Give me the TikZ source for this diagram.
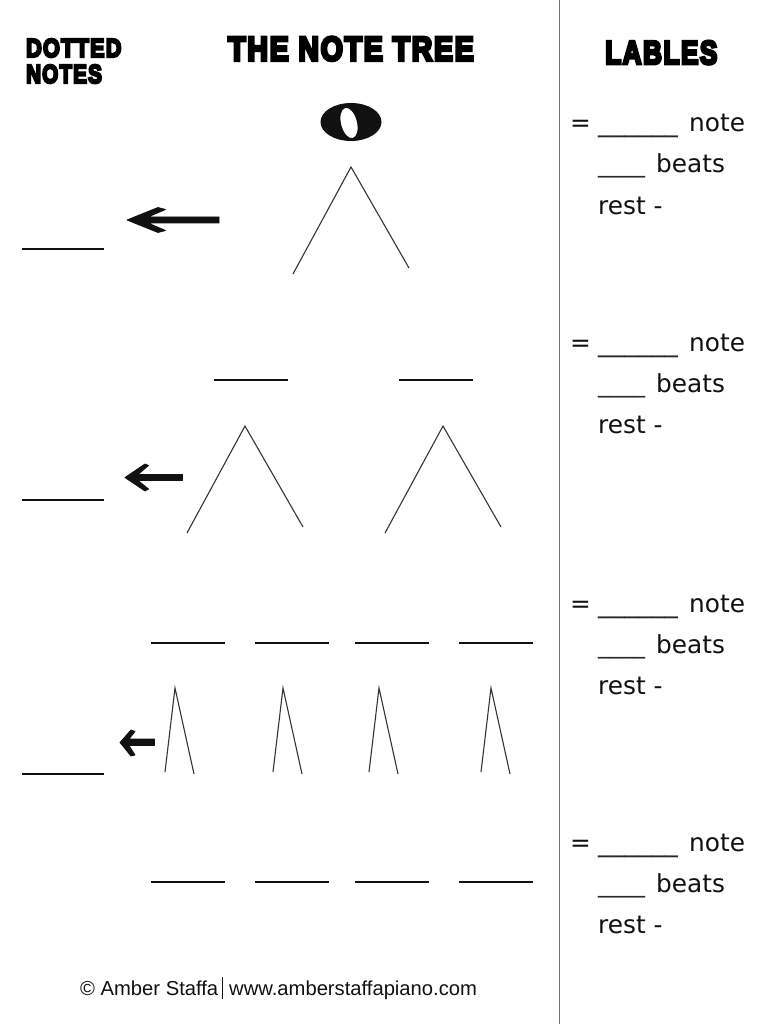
\documentclass[tikz,border=0pt]{standalone}
\usepackage{fontspec}
\usepackage{graphicx}
\setmainfont{DejaVu Sans}
\newfontfamily\heavyfont[BoldFeatures={FakeBold=9},LetterSpace=6]{Liberation Sans}
\newfontfamily\footfont{Liberation Sans}
\definecolor{ink}{HTML}{111111}
\tikzset{
  x=1pt,y=-1pt,
  blank/.style={draw=ink,line width=2.1pt},
  branch/.style={draw=ink!85,line width=1.1pt},
  rule/.style={draw=black!55,line width=1.8pt},
  arrowshape/.style={fill=ink,draw=ink,line width=0.8pt,line join=round},
  lbl/.style={inner sep=0pt,anchor=base west,text=ink,font=\fontsize{24.8}{28}\selectfont},
  ublank/.style={inner sep=0pt,anchor=base west,text=ink!90},
  head/.style={inner sep=0pt,anchor=base west,text=black},
  foot/.style={inner sep=0pt,anchor=base west,text=ink,font=\footfont\fontsize{20.2}{24}\selectfont},
}
\newcommand{\hv}[3]{\scalebox{#1}[1]{\heavyfont\bfseries\fontsize{#2}{#2}\selectfont #3}}
\newcommand{\labelset}[2]{%
  \node[lbl] (eq#1) at (570,#2) {=};
  \node[ublank,font=\fontsize{26.6}{28}\selectfont] (nb#1) at (598,#2) {\_\_\_\_\_\_};
  \node[lbl] (note#1) at (689,#2) {note};
  \node[ublank,font=\fontsize{23.5}{28}\selectfont] (bb#1) at (598,#2+41) {\_\_\_\_};
  \node[lbl] (beats#1) at (656,#2+41) {beats};
  \node[lbl] (rest#1) at (598,#2+82.5) {rest -};
}
\newcommand{\treeshape}[7]{%
  \coordinate (a#1) at (#2,#3);
  \coordinate (l#1) at (#4,#5);
  \coordinate (r#1) at (#6,#7);
  \draw[branch] (l#1) -- (a#1) -- (r#1);
}
\newcommand{\blankline}[4]{%
  \coordinate (bs#1) at (#2,#4);
  \coordinate (be#1) at (#3,#4);
  \draw[blank] (bs#1) -- (be#1);
}
\begin{document}
\begin{tikzpicture}
\useasboundingbox (0,0) rectangle (768,1024);
\fill[white] (0,0) rectangle (768,1024);
% divider
\coordinate (rt) at (559.5,0);
\coordinate (rb) at (559.5,1024);
\draw[rule] (rt) -- (rb);
% headings
\node[head] (dotted) at (26,57) {\hv{0.83}{26}{DOTTED}};
\node[head] (notes) at (26,83) {\hv{0.79}{26}{NOTES}};
\node[head] (title) at (228,60.5) {\hv{0.84}{34}{THE NOTE TREE}};
\node[head] (lables) at (605,64) {\hv{0.79}{33}{LABLES}};
% whole note
\fill[ink,even odd rule] (351,122) ellipse [x radius=30.5,y radius=19]
  (349,123) [rotate around={14:(349,123)}] ellipse [x radius=8,y radius=15.5];
% trees
\treeshape{A}{351}{167}{293}{274}{409}{268}
\treeshape{B}{245}{426}{187}{533}{303}{527}
\treeshape{C}{443}{426}{385}{533}{501}{527}
\treeshape{D}{175}{688}{165}{772}{194}{774}
\treeshape{E}{283}{688}{273}{772}{302}{774}
\treeshape{F}{379}{688}{369}{772}{398}{774}
\treeshape{G}{491}{688}{481}{772}{510}{774}
% blanks
\blankline{a}{22}{104}{249}
\blankline{b}{22}{104}{500}
\blankline{c}{22}{104}{774}
\blankline{d}{214}{288}{380}
\blankline{e}{399}{473}{380}
\blankline{f}{151}{225}{643}
\blankline{g}{255}{329}{643}
\blankline{h}{355}{429}{643}
\blankline{i}{459}{533}{643}
\blankline{j}{151}{225}{882}
\blankline{k}{255}{329}{882}
\blankline{l}{355}{429}{882}
\blankline{m}{459}{533}{882}
% arrows
\filldraw[arrowshape] (127,220) -- (158,207.5) -- (165.5,209.5) -- (148,217) -- (219,217) -- (219,223) -- (148,223) -- (165.5,230.5) -- (158,232.5) -- cycle;
\filldraw[arrowshape] (125,477.5) -- (145,464) -- (148.5,465.5) -- (138,474.5) -- (182.5,474.5) -- (182.5,480.5) -- (138,480.5) -- (148.5,489) -- (145,491) -- cycle;
\filldraw[arrowshape] (120,742.5) -- (131,730) -- (135,731.5) -- (129,739) -- (154.5,739) -- (154.5,745.5) -- (129,745.5) -- (135,755) -- (131,756) -- cycle;
% labels
\labelset{1}{132}
\labelset{2}{351}
\labelset{3}{612}
\labelset{4}{851}
% footer
\node[foot] (copy) at (80,995) {© Amber Staffa};
\coordinate (bart) at (222.5,977);
\coordinate (barb) at (222.5,999);
\draw[draw=ink,line width=0.9pt] (bart) -- (barb);
\node[foot] (web) at (229,995) {www.amberstaffapiano.com};
\end{tikzpicture}
\end{document}
